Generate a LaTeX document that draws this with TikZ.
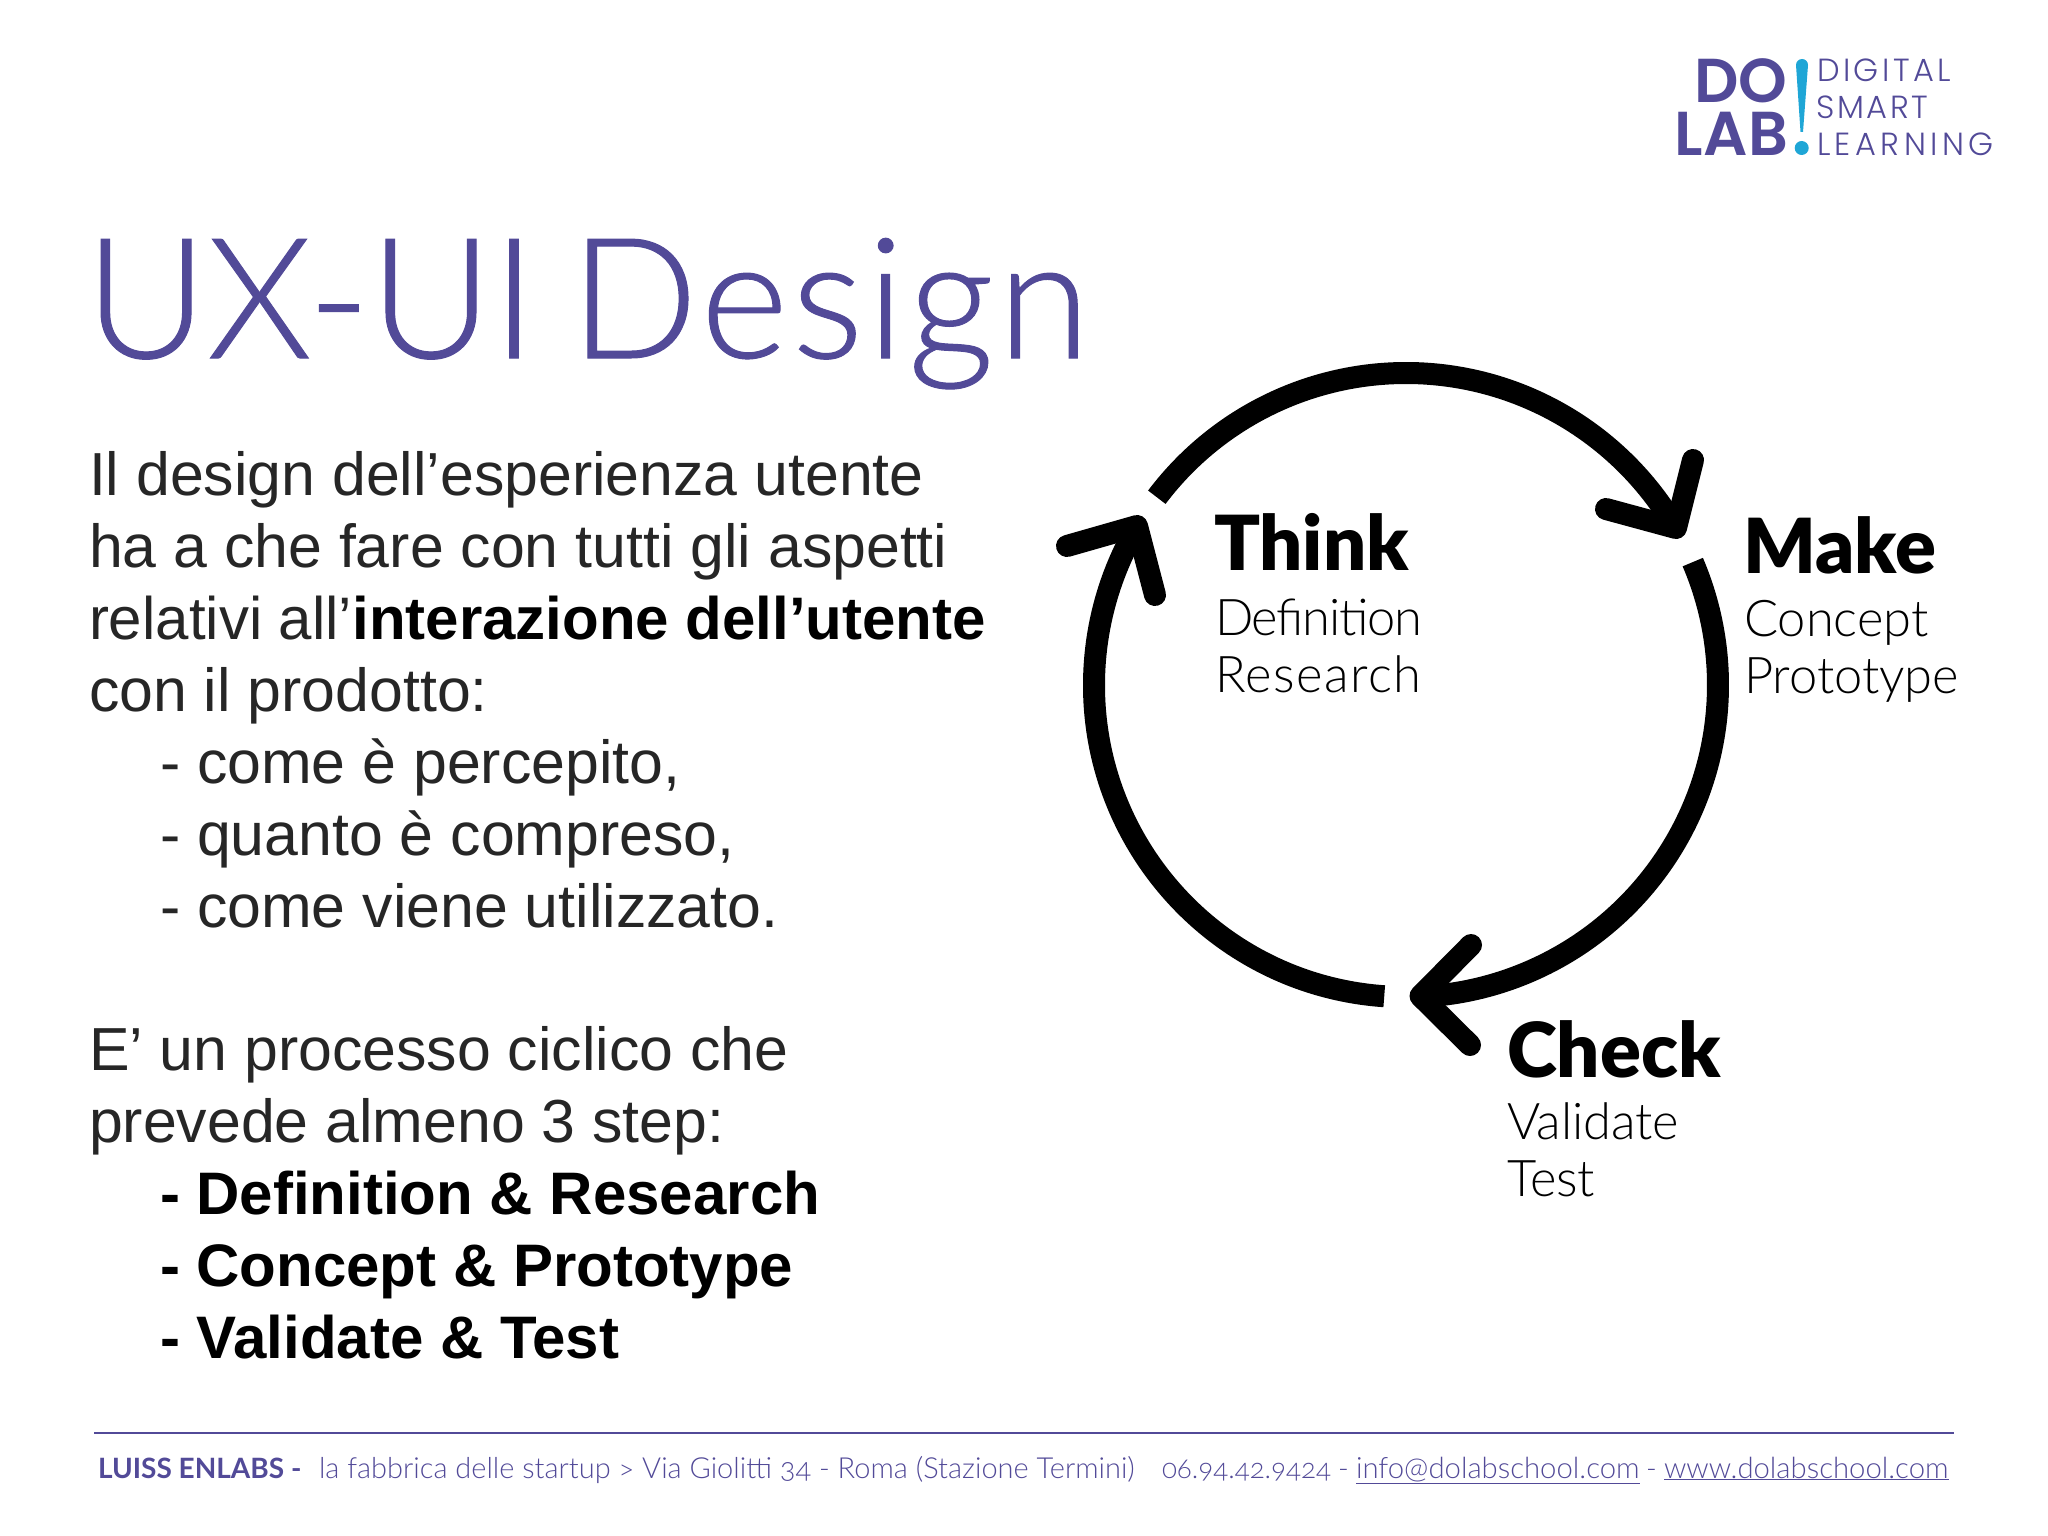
\documentclass[tikz,border=0pt]{standalone}
\usepackage{fontspec}
\setmainfont{Liberation Sans}
\newfontfamily\lightf{Lato Light}
\newfontfamily\titlef[FakeBold=0.6]{Lato Light}
\newfontfamily\footf[Numbers=OldStyle]{Lato Light}
\newfontfamily\footb{Lato Bold}
\newfontfamily\blackf{Lato Black}
\newfontfamily\logof{Poppins Light}
\newfontfamily\logob{Poppins SemiBold}
\definecolor{brand}{HTML}{524A98}
\definecolor{sky}{HTML}{1FA6D6}
\tikzset{
 txt/.style={anchor=base west,inner sep=0pt,outer sep=0pt},
 body/.style={txt,font=\fontsize{60.8}{70}\selectfont,text=black!85},
 bodyb/.style={txt,font=\fontsize{60}{70}\selectfont\bfseries,text=black},
 head/.style={txt,font=\blackf\fontsize{76}{80}\selectfont,text=black},
 sub/.style={txt,font=\lightf\fontsize{50.6}{56}\selectfont,text=black},
 foot/.style={txt,font=\footf\fontsize{29}{32}\selectfont,text=brand},
 ring/.style={line width=22pt,line cap=butt,black},
 headline/.style={line width=22pt,line cap=round,line join=round,black},
 lg/.style={txt,font=\logof\fontsize{32}{32}\selectfont,text=brand},
 lgb/.style={txt,font=\logob\fontsize{62}{62}\selectfont,text=brand},
}
\begin{document}
\begin{tikzpicture}[x=1pt,y=1pt]
\useasboundingbox (0,0) rectangle (2048,-1536);
% title
\node[txt,font=\titlef\fontsize{168}{180}\selectfont,text=brand] (title) at (85,-358) {UX-UI\hspace{-11pt} {\addfontfeature{LetterSpace=2.2}Design}};
% body
\node[body] (l1) at (89,-495) {Il design dell’esperienza utente};
\node[body] (l2) at (89,-567) {ha a che fare con tutti gli aspetti};
\node[body] (l3) at (89,-639) {{\fontsize{60}{70}\selectfont relativi all’\textbf{\textcolor{black}{interazione dell’utente}}}};
\node[body] (l4) at (89,-711) {con il prodotto:};
\node[body] (l5) at (160,-783) {- come è percepito,};
\node[body] (l6) at (160,-855) {- quanto è compreso,};
\node[body] (l7) at (160,-927) {- come viene utilizzato.};
\node[body] (l8) at (89,-1070.5) {E’ un processo ciclico che};
\node[body] (l9) at (89,-1142.5) {prevede almeno 3 step:};
\node[bodyb] (l10) at (160,-1214) {- Definition \& Research};
\node[bodyb] (l11) at (160,-1286) {- Concept \& Prototype};
\node[bodyb] (l12) at (160,-1358) {- Validate \& Test};
% cycle
\coordinate (c) at (1406,-685);
\draw[ring] (c) ++(143:312) arc[start angle=143,end angle=31,radius=312pt];
\draw[ring] (c) ++(23.2:312) arc[start angle=23.2,end angle=-88,radius=312pt];
\draw[ring] (c) ++(266:312) arc[start angle=266,end angle=150,radius=312pt];
\coordinate (t1) at (1676,-528);
\coordinate (a1) at (1693,-460);
\coordinate (b1) at (1606,-509);
\coordinate (t2) at (1420.5,-996);
\coordinate (a2) at (1471,-945);
\coordinate (b2) at (1470,-1045);
\coordinate (t3) at (1137,-526);
\coordinate (a3) at (1067,-546);
\coordinate (b3) at (1155,-595);
\draw[headline] (a1) -- (t1) -- (b1);
\draw[headline] (a2) -- (t2) -- (b2);
\draw[headline] (a3) -- (t3) -- (b3);
% labels
\node[head] (think) at (1214,-570) {Think};
\node[sub,font=\lightf\fontsize{50.6}{56}\selectfont\addfontfeature{LetterSpace=-2.5}] (def) at (1215,-635) {Definit{}ion};
\node[sub,font=\lightf\fontsize{50.6}{56}\selectfont\addfontfeature{LetterSpace=3}] (res) at (1215,-692) {Research};
\node[head] (make) at (1743,-573) {Make};
\node[sub] (con) at (1744,-636) {Concept};
\node[sub] (pro) at (1744,-693) {Prototype};
\node[head] (check) at (1507,-1077) {Check};
\node[sub] (val) at (1507,-1139) {Validate};
\node[sub] (tes) at (1507,-1196) {Test};
% footer
\coordinate (fa) at (94,-1433);
\coordinate (fb) at (1954,-1433);
\draw[brand,line width=2.5pt] (fa) -- (fb);
\node[foot,font=\footb\fontsize{28}{32}\selectfont] (f1) at (98,-1478) {LUISS ENLABS -};
\node[foot] (f2) at (319,-1478) {la fabbrica delle startup > Via Giolitti 34 - Roma (Stazione Termini)};
\node[foot,font=\footf\fontsize{27.7}{32}\selectfont] (f3) at (1162,-1478) {06.94.42.9424};
\node[foot] (f3b) at (1338,-1478) {-};
\node[foot,font=\footf\fontsize{29.3}{32}\selectfont] (f4) at (1356,-1478) {\underline{info@dolabschool.com}};
\node[foot] (f5) at (1646,-1478) {-};
\node[foot,font=\footf\fontsize{29.3}{32}\selectfont] (f6) at (1664,-1478) {\underline{www.dolabschool.com}};
% logo
\node[lgb] (do) at (1694,-103) {DO};
\node[lgb,font=\logob\fontsize{62}{62}\selectfont\addfontfeature{LetterSpace=1.5}] (lab) at (1674,-156) {LAB};
\node[lg,font=\logof\fontsize{32}{32}\selectfont\addfontfeature{LetterSpace=11}] (dig) at (1817,-82) {DIGITAL};
\node[lg,font=\logof\fontsize{32}{32}\selectfont\addfontfeature{LetterSpace=8.5}] (sma) at (1816,-119) {SMART};
\node[lg,font=\logof\fontsize{32}{32}\selectfont\addfontfeature{LetterSpace=14}] (lea) at (1817,-156) {LEARNING};
\fill[sky] (1796,-65) arc[start angle=180,end angle=0,radius=6pt] -- (1803,-132) -- (1800.5,-132) -- cycle;
\fill[sky] (1801.7,-148) circle (7pt);
\end{tikzpicture}
\end{document}
